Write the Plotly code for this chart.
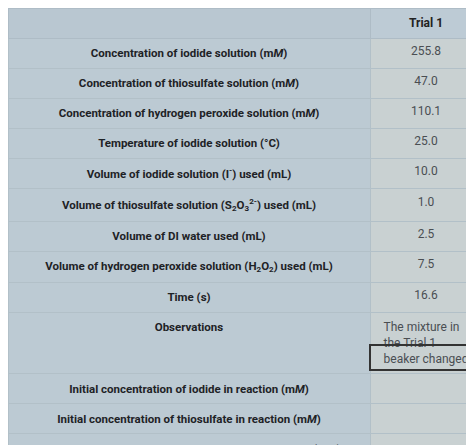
import plotly.graph_objects as go

labels = [
    "Concentration of iodide solution (m<i>M</i>)",
    "Concentration of thiosulfate solution (m<i>M</i>)",
    "Concentration of hydrogen peroxide solution (m<i>M</i>)",
    "Temperature of iodide solution (°C)",
    "Volume of iodide solution (I<sup>-</sup>) used (mL)",
    "Volume of thiosulfate solution (S<sub>2</sub>O<sub>3</sub><sup>2-</sup>) used (mL)",
    "Volume of DI water used (mL)",
    "Volume of hydrogen peroxide solution (H<sub>2</sub>O<sub>2</sub>) used (mL)",
    "Time (s)",
    "Observations",
    "Initial concentration of iodide in reaction (m<i>M</i>)",
    "Initial concentration of thiosulfate in reaction (m<i>M</i>)",
    "Initial concentration of hydrogen peroxide in reaction (m<i>M</i>)",
    "Initial Rate (m<i>M</i>/s)",
]
trial1 = ["255.8", "47.0", "110.1", "25.0", "10.0", "1.0", "2.5", "7.5", "16.6",
          "The mixture in<br>the Trial 1  <br>beaker changed", "", "", "", ""]

fig = go.Figure(go.Table(
    columnwidth=[362, 112],
    header=dict(values=["", "<b>Trial 1</b>"],
                fill_color=["#b9c7d1", "#bdcbd5"],
                line_color="#aebcc6",
                font=dict(family="Roboto", size=12, color="#222"),
                align="center", height=28),
    cells=dict(values=[["<b>" + l + "</b>" for l in labels], trial1],
               fill_color=["#bccad3", "#c9d1d2"],
               line_color="#b2c0c8",
               font=dict(family="Roboto", size=[11.5, 12], color=["#1e2226", "#4a4e52"]),
               align="center",
               height=27),
    domain=dict(x=[0, 1], y=[0, 1]),
))
fig.add_shape(type="rect", xref="paper", yref="paper",
              x0=362 / 474, x1=470 / 474, y0=1 - 362 / 445, y1=1 - 337 / 445,
              line=dict(color="#333", width=2))
fig.update_layout(width=474, height=445, margin=dict(l=0, r=0, t=0, b=0),
                  paper_bgcolor="#bccad3")
fig.write_html("out.html")
